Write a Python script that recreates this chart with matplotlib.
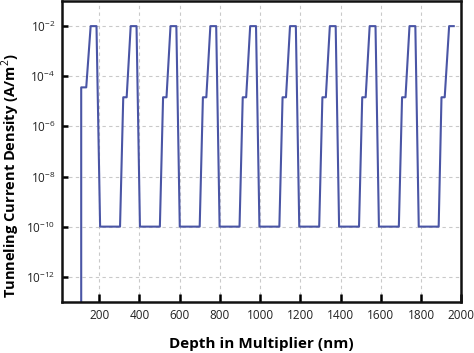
import matplotlib
matplotlib.use("Agg")
import matplotlib.pyplot as plt
from matplotlib.ticker import NullLocator

plt.rcParams["font.family"] = ["Open Sans", "DejaVu Sans"]
plt.rcParams["mathtext.fontset"] = "custom"
plt.rcParams["mathtext.rm"] = "Open Sans"
plt.rcParams["mathtext.bf"] = "Open Sans:bold"

# tunneling current along the multiplier depth
depth_nm = [111, 111, 136, 158, 187, 205,
            304, 320, 337, 357, 386, 403,
            502, 518, 535, 555, 584, 601,
            700, 716, 733, 753, 782, 799,
            898, 914, 931, 951, 980, 997,
            1096, 1112, 1129, 1149, 1178, 1195,
            1294, 1310, 1327, 1347, 1376, 1393,
            1492, 1508, 1525, 1545, 1574, 1591,
            1690, 1706, 1723, 1743, 1772, 1789,
            1888, 1902, 1918, 1940, 1963]
current = [1e-14, 3.6e-5, 3.6e-5, 1e-2, 1e-2, 1e-10,
           1e-10, 1.45e-5, 1.45e-5, 1e-2, 1e-2, 1e-10,
           1e-10, 1.45e-5, 1.45e-5, 1e-2, 1e-2, 1e-10,
           1e-10, 1.45e-5, 1.45e-5, 1e-2, 1e-2, 1e-10,
           1e-10, 1.45e-5, 1.45e-5, 1e-2, 1e-2, 1e-10,
           1e-10, 1.45e-5, 1.45e-5, 1e-2, 1e-2, 1e-10,
           1e-10, 1.45e-5, 1.45e-5, 1e-2, 1e-2, 1e-10,
           1e-10, 1.45e-5, 1.45e-5, 1e-2, 1e-2, 1e-10,
           1e-10, 1.45e-5, 1.45e-5, 1e-2, 1e-2, 1e-10,
           1e-10, 1.45e-5, 1.45e-5, 1e-2, 1e-2]

x_ticks = [200, 400, 600, 800, 1000, 1200, 1400, 1600, 1800, 2000]
y_ticks = [1e-12, 1e-10, 1e-8, 1e-6, 1e-4, 1e-2]

fig = plt.figure(figsize=(4.74, 3.53), dpi=100)
ax = fig.add_axes([0.131, 0.145, 0.842, 0.852])

ax.plot(depth_nm, current, color="#4a55a5", lw=1.5)
ax.set_yscale("log")
ax.set_xlim(16, 2000)
ax.set_ylim(1e-13, 1e-1)

ax.set_xticks(x_ticks)
ax.set_yticks(y_ticks)
ax.yaxis.set_minor_locator(NullLocator())
ax.tick_params(direction="in", width=1.8, color="black",
               labelsize=8.5, pad=5, labelcolor="#222222")
ax.tick_params(axis="x", length=6)
ax.tick_params(axis="y", length=4)

ax.grid(True, color="#c9c9c9", linestyle=(0, (3, 3)), lw=0.8)
for sp in ax.spines.values():
    sp.set_linewidth(1.8)
    sp.set_color("#111111")

ax.set_xlabel("Depth in Multiplier (nm)", fontsize=11, fontweight="bold",
              labelpad=11)
ax.set_ylabel("Tunneling Current Density (A/m$^2$)", fontsize=10.5,
              fontweight="bold")
ax.yaxis.set_label_coords(-0.1, 0.42)

fig.savefig("out.png", dpi=100)
